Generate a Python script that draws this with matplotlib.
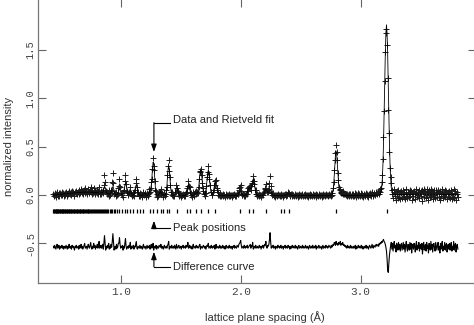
import numpy as np
import matplotlib
matplotlib.use('Agg')
import matplotlib.pyplot as plt

# sampling of the pattern in d-spacing (Angstrom)
d_start, d_step, n_pts = 0.44, 0.005, 675

# reflections: position, height, width (sigma)
peak_d = [0.867, 0.935, 0.99, 1.04, 1.08, 1.13, 1.20, 1.245, 1.272, 1.333,
          1.40, 1.467, 1.565, 1.625, 1.667, 1.73, 1.79, 1.994, 2.07, 2.105,
          2.21, 2.245, 2.40, 2.795, 3.215]
peak_h = [0.07, 0.08, 0.06, 0.12, 0.04, 0.11, 0.02, 0.05, 0.35, 0.04,
          0.31, 0.08, 0.11, 0.03, 0.27, 0.26, 0.14, 0.04, 0.08, 0.17,
          0.06, 0.05, 0.02, 0.46, 1.76]
peak_w = [0.008, 0.008, 0.008, 0.009, 0.008, 0.009, 0.008, 0.008, 0.010, 0.009,
          0.010, 0.009, 0.010, 0.010, 0.011, 0.011, 0.011, 0.010, 0.011, 0.011,
          0.011, 0.011, 0.011, 0.012, 0.016]

# broad background humps
bg_d = [0.72, 3.55]
bg_h = [0.035, 0.012]
bg_w = [0.15, 0.25]

# observed minus calculated, in units of 0.01, one row per 0.1 A
diff_rows = """
1 -1 2 0 -2 1 3 -1 0 2 -2 1 -1 0 2 -1 1 -2 0 1
-1 2 0 -2 1 -1 3 0 -1 1 -2 2 0 1 -1 -3 1 0 2 -1
0 1 -2 2 -1 0 3 -1 1 -2 0 2 4 -1 0 1 -2 1 3 0
-1 2 5 0 -2 1 -1 4 0 2 -2 1 0 3 -1 2 6 -1 0 2
-1 1 3 -2 4 12 5 -3 1 -1 2 0 4 -2 1 -1 3 0 6 14
5 -3 0 1 -2 3 -1 0 4 4 10 3 -1 1 0 2 -3 1 -1 4
9 1 -2 0 1 -1 2 0 5 -2 1 -1 0 2 -2 1 0 3 6 -1
-2 1 0 -1 2 -1 1 0 -2 1 3 -1 0 1 -2 0 2 -1 1 0
2 -2 1 3 -1 0 4 -3 1 0 -1 2 -2 1 0 -1 2 1 0 3
-1 1 0 -2 1 2 -1 0 1 -1 2 3 6 -2 0 1 -1 2 0 -1
1 -1 2 0 -2 3 0 -1 1 2 -1 0 1 -2 1 0 2 -1 0 1
-1 2 0 1 5 -1 0 2 -1 1 0 -2 1 3 -1 0 1 -1 2 0
1 -1 0 2 3 -2 1 0 -1 1 2 0 -1 1 -2 0 2 1 4 -1
0 1 -1 2 0 -1 1 0 2 -2 1 3 -1 0 1 -1 0 2 -1 1
-1 0 2 -1 1 0 -2 1 2 -1 0 1 -1 2 0 -1 1 0 -2 1
0 2 -1 1 0 -1 2 1 0 3 4 5 7 2 -1 0 1 -1 2 0
-1 1 0 2 -1 0 1 2 3 -1 2 1 5 -2 0 1 -1 2 0 -1
1 0 -1 2 0 1 -2 1 0 2 -1 1 3 2 6 0 -1 2 1 3
8 15 5 -1 1 0 2 -1 0 1 -2 1 0 -1 2 0 1 -1 0 2
-1 0 1 -2 1 0 2 -1 1 0 -1 2 0 1 -2 0 1 -1 2 0
1 -1 0 2 -1 1 0 -2 1 2 -1 0 1 -1 0 2 -1 1 0 -1
2 0 -1 1 0 -2 1 2 -1 0 1 -1 2 0 -1 1 0 2 -2 1
0 -1 2 1 -1 0 1 -2 0 2 -1 1 0 -1 2 0 1 -1 0 2
1 0 -1 2 0 1 3 2 5 4 2 6 3 4 2 5 3 4 6 2
4 3 5 2 3 1 2 0 1 -1 2 0 1 -1 0 2 -1 1 0 -1
1 -1 0 2 -2 1 0 -1 2 0 1 -1 0 2 -1 1 -2 0 1 -1
0 2 -1 1 0 -2 1 2 0 -1 1 3 0 -1 2 1 0 2 3 1
2 3 1 4 3 5 4 6 5 7 8 6 5 3 0 -4 -12 -24 -26 -16
-8 -3 2 5 -2 4 -4 3 6 -1 2 -5 4 1 -3 5 -2 3 -4 2
4 -3 1 5 -2 3 -5 2 6 -1 -4 3 1 -3 5 -2 4 -6 2 3
-2 4 1 -5 3 6 -3 2 -1 5 -4 1 3 -2 4 -7 2 5 -3 1
3 -4 5 -1 2 -6 4 1 -3 6 -2 3 -5 2 4 -1 -4 5 1 -3
2 5 -3 1 -6 4 -2 3 6 -4 1 -2 5 -3 2 4 -5 1 3 -2
4 -3 2 5 -4 1 -2 6 -3 2 4 -5 1 3 -2
"""

# reflection markers (Angstrom)
tick_d = [0.437, 0.442, 0.446, 0.451, 0.457, 0.461, 0.466, 0.472, 0.477, 0.481,
          0.487, 0.492, 0.496, 0.502, 0.507, 0.513, 0.518, 0.523, 0.529, 0.534,
          0.539, 0.545, 0.551, 0.556, 0.562, 0.567, 0.573, 0.579, 0.584, 0.590,
          0.596, 0.602, 0.608, 0.613, 0.619, 0.626, 0.632, 0.638, 0.644, 0.651,
          0.657, 0.663, 0.670, 0.676, 0.683, 0.690, 0.697, 0.703, 0.710, 0.717,
          0.724, 0.731, 0.739, 0.746, 0.753, 0.761, 0.768, 0.776, 0.784, 0.791,
          0.799, 0.808, 0.816, 0.824, 0.833, 0.841, 0.850, 0.859, 0.868, 0.877,
          0.887, 0.897, 0.908, 0.919, 0.930, 0.942, 0.954, 0.972, 0.988, 1.008,
          1.036, 1.055, 1.078, 1.105, 1.133, 1.16, 1.19, 1.244, 1.272, 1.30,
          1.333, 1.355, 1.383, 1.405, 1.467, 1.55, 1.578, 1.625, 1.667, 1.73,
          1.79, 1.994, 2.07, 2.105, 2.21, 2.34, 2.36, 2.405, 2.795, 3.217]

tick_level = -0.165
diff_offset = -0.54

d = d_start + d_step * np.arange(n_pts)
diff = np.array(diff_rows.split(), dtype=float) * 0.01

calc = np.full(n_pts, -0.005)
for c, h, w in zip(peak_d + bg_d, peak_h + bg_h, peak_w + bg_w):
    calc += h * np.exp(-0.5 * ((d - c) / w) ** 2)
obs = calc + diff

fig = plt.figure(figsize=(4.74, 3.25), dpi=100)
ax = fig.add_axes([38/474, 42/325, 438/474, 284/325])

ax.plot(d, obs, '+', color='#1a1a1a', ms=4.2, mew=0.7, zorder=2)
ax.plot(d, calc, '-', color='black', lw=0.6, zorder=3)
ax.vlines(tick_d, tick_level - 0.02, tick_level + 0.02, color='black', lw=0.9)
ax.plot(d, diff + diff_offset, '-', color='black', lw=0.8)

ax.set_xlim(0.311, 3.961)
ax.set_ylim(-0.910, 2.027)
ax.set_xticks([1.0, 2.0, 3.0])
ax.set_yticks([-0.5, 0.0, 0.5, 1.0, 1.5])
ax.set_xticklabels(['1.0', '2.0', '3.0'], family='Liberation Mono', fontsize=8)
ax.set_yticklabels(['-0.5', '0.0', '0.5', '1.0', '1.5'], family='Liberation Mono',
                   fontsize=7.5, rotation=90, va='center')
ax.tick_params(direction='in', top=True, right=True, length=5.5, width=0.8,
               colors='#666666', labelcolor='#444444', pad=3)
ax.tick_params(axis='y', pad=2)
for s in ['top', 'right']:
    ax.spines[s].set_visible(False)
for s in ['left', 'bottom']:
    ax.spines[s].set_color('#777777')
    ax.spines[s].set_linewidth(0.9)

ylab = ax.set_ylabel('normalized intensity', family='Liberation Sans', fontsize=8,
                     color='#333333', va='center')
ax.yaxis.set_label_coords(-0.066, 0.48)
xlab = ax.set_xlabel('lattice plane spacing (Å)', family='Liberation Sans', fontsize=8,
                     color='#333333', va='center')
ax.xaxis.set_label_coords(0.517, -0.119)

# labelled arrows
arrow_x = peak_d[8] + 0.005
text_x = 1.433
labels = [('Data and Rietveld fit', 0.445, 0.748),
          ('Peak positions', -0.266, -0.344),
          ('Difference curve', -0.587, -0.742)]
for txt, tip_y, corner_y in labels:
    ax.annotate('', xy=(arrow_x, tip_y), xytext=(arrow_x, corner_y),
                arrowprops=dict(arrowstyle='-|>,head_length=0.45,head_width=0.16',
                                lw=0.8, color='black', shrinkA=0, shrinkB=0))
    ax.plot([arrow_x, text_x - 0.02], [corner_y, corner_y], color='black', lw=0.8)
    if tip_y > corner_y:
        ax.text(text_x, corner_y, txt, family='Liberation Sans', fontsize=8,
                va='center', ha='left', color='#222222')
    else:
        ax.text(text_x, corner_y, txt, family='Liberation Sans', fontsize=8,
                va='baseline', ha='left', color='#222222')

fig.savefig('out.png', dpi=100)
